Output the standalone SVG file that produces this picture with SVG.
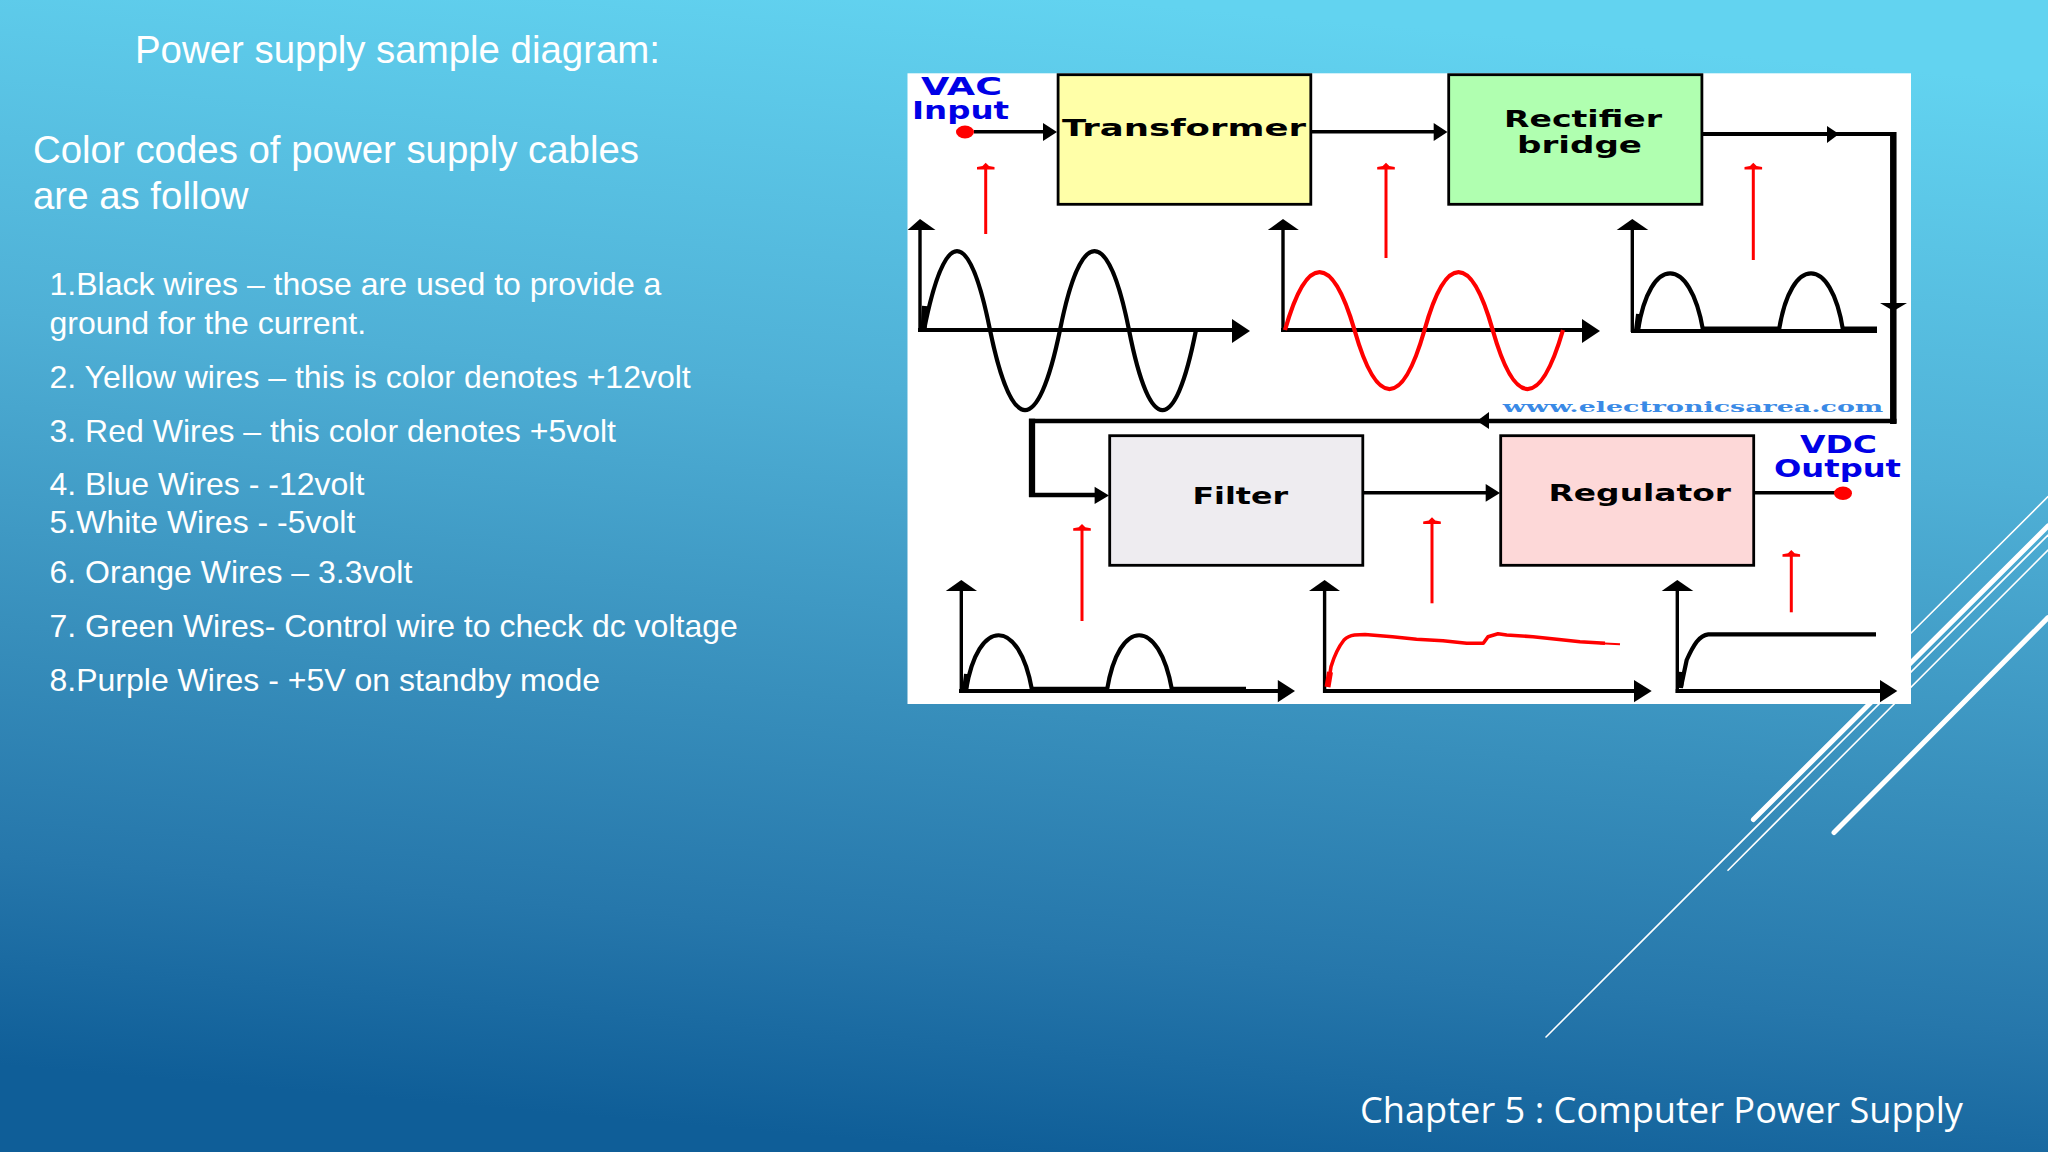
<svg xmlns="http://www.w3.org/2000/svg" width="2048" height="1152" viewBox="0 0 2048 1152">
<style>
.t{font-family:"Liberation Sans",Arial,sans-serif;fill:#fff}
.h{font-size:38.4px}.l{font-size:32px}
.b{font-family:"DejaVu Sans",sans-serif;font-weight:bold;fill:#000;font-size:23px}
.v{font-family:"DejaVu Sans",sans-serif;font-weight:bold;fill:#0000e6;font-size:24px}
.box{stroke:#000;stroke-width:2.8}
.w{fill:none;stroke:#000;stroke-width:3.4}
.s{fill:none;stroke:#000;stroke-width:4.2}
.r{fill:none;stroke:#f00;stroke-width:4.2}
.ra{fill:none;stroke:#f00;stroke-width:3}
.ah{fill:#000}.rh{fill:#f00}
.deco{stroke:#fff;fill:none}
</style>
<defs>
<linearGradient id="bg" gradientUnits="userSpaceOnUse" x1="1100" y1="0" x2="1000" y2="1152">
<stop offset="0" stop-color="#62d3f0"/><stop offset="0.35" stop-color="#4fb0d6"/><stop offset="0.62" stop-color="#388fbc"/><stop offset="0.82" stop-color="#2677ab"/><stop offset="1" stop-color="#0f5e98"/>
</linearGradient>
</defs>
<rect id="background" width="2048" height="1152" fill="url(#bg)"/>
<g id="decoration" class="deco" stroke-linecap="round">
<path d="M1884 660L2048 496.6" stroke-width="1.6"/>
<path d="M1753.4 819.6L2048 526" stroke-width="5"/>
<path d="M1546 1037L2048 535" stroke-width="1.6"/>
<path d="M1728 870.3L2048 550" stroke-width="1.6"/>
<path d="M1834 832.6L2048 617.6" stroke-width="5"/>
</g>
<g id="slide-text">
<text class="t h" x="135" y="63">Power supply sample diagram:</text>
<text class="t h" x="33" y="163">Color codes of power supply cables</text>
<text class="t h" x="33" y="209">are as follow</text>
<text class="t l" x="49.5" y="295">1.Black wires – those are used to provide a</text>
<text class="t l" x="49.5" y="333.5">ground for the current.</text>
<text class="t l" x="49.5" y="388">2. Yellow wires – this is color denotes +12volt</text>
<text class="t l" x="49.5" y="442">3. Red Wires – this color denotes +5volt</text>
<text class="t l" x="49.5" y="495">4. Blue Wires - -12volt</text>
<text class="t l" x="49.5" y="533">5.White Wires - -5volt</text>
<text class="t l" x="49.5" y="583">6. Orange Wires – 3.3volt</text>
<text class="t l" x="49.5" y="637">7. Green Wires- Control wire to check dc voltage</text>
<text class="t l" x="49.5" y="691">8.Purple Wires - +5V on standby mode</text>
<text x="1360" y="1123" font-family="'Open Sans',sans-serif" font-size="36.5px" fill="#fff" textLength="603" lengthAdjust="spacingAndGlyphs">Chapter 5 : Computer Power Supply</text>
</g>
<rect id="picture" x="907.5" y="73.3" width="1003.5" height="630.7" fill="#fff"/>
<g id="connectors">
<path class="w" d="M974 131.7H1045"/><polygon class="ah" points="1043,123 1057,132 1043,141"/>
<path class="w" d="M1312 131.7H1435"/><polygon class="ah" points="1433.7,123 1447.5,132 1433.7,141"/>
<path fill="none" stroke="#000" stroke-width="4" d="M1703 134H1892"/><polygon class="ah" points="1827,126 1839,134 1827,143"/>
<path fill="none" stroke="#000" stroke-width="6.5" d="M1893.3 132V424"/><polygon class="ah" points="1880,303 1907,303 1893.5,311"/>
<path fill="none" stroke="#000" stroke-width="4.5" d="M1896.5 421H1029"/><polygon class="ah" points="1489,412 1489,429 1477,421"/>
<path fill="none" stroke="#000" stroke-width="6.3" d="M1032 418.7V497"/><path fill="none" stroke="#000" stroke-width="4.7" d="M1029 495H1097"/><polygon class="ah" points="1094.6,486.7 1109,495.5 1094.6,504"/>
<path class="w" d="M1364 492.7H1488"/><polygon class="ah" points="1485.7,484 1500,493 1485.7,501.7"/>
<path class="w" d="M1755 492.7H1836"/>
<ellipse cx="965" cy="132" rx="9" ry="6.5" fill="#f00"/>
<ellipse cx="1843" cy="493.3" rx="9" ry="6.7" fill="#f00"/>
</g>
<g id="red-arrows">
<path class="ra" d="M985.7 234V166"/><polygon class="rh" points="985.7,162.7 989,166 994.5,167 994.5,169.5 977,169.5 977,167 982.5,166"/>
<path class="ra" d="M1386 258V166"/><polygon class="rh" points="1386,162.7 1389.3,166 1394.8,167 1394.8,169.5 1377.2,169.5 1377.2,167 1382.7,166"/>
<path class="ra" d="M1753.3 260V166"/><polygon class="rh" points="1753.3,162.7 1756.6,166 1762.1,167 1762.1,169.5 1744.5,169.5 1744.5,167 1750,166"/>
<path class="ra" d="M1082 621V527"/><polygon class="rh" points="1082,524 1085.3,527.3 1090.8,528.3 1090.8,530.8 1073.2,530.8 1073.2,528.3 1078.7,527.3"/>
<path class="ra" d="M1432 603.3V520"/><polygon class="rh" points="1432,517.3 1435.3,520.6 1440.8,521.6 1440.8,524.1 1423.2,524.1 1423.2,521.6 1428.7,520.6"/>
<path class="ra" d="M1791.3 612.3V553"/><polygon class="rh" points="1791.3,550 1794.6,553.3 1800.1,554.3 1800.1,556.8 1782.5,556.8 1782.5,554.3 1788,553.3"/>
</g>
<g id="vac-label">
<text class="v" x="921" y="95" textLength="81" lengthAdjust="spacingAndGlyphs">VAC</text>
<text class="v" x="912" y="119.3" textLength="97" lengthAdjust="spacingAndGlyphs">Input</text>
</g>
<g id="transformer">
<rect class="box" x="1058.1" y="74.7" width="252.7" height="129.6" fill="#ffffa8"/>
<text class="b" x="1062" y="136" textLength="244" lengthAdjust="spacingAndGlyphs">Transformer</text>
</g>
<g id="rectifier">
<rect class="box" x="1448.7" y="74.7" width="253.2" height="129.6" fill="#b0ffb0"/>
<text class="b" x="1504" y="127.3" textLength="158" lengthAdjust="spacingAndGlyphs">Rectifier</text>
<text class="b" x="1517" y="153.3" textLength="125" lengthAdjust="spacingAndGlyphs">bridge</text>
</g>
<g id="filter">
<rect class="box" x="1109.7" y="435.7" width="253.1" height="129.6" fill="#eeecf0"/>
<text class="b" x="1192.5" y="504" textLength="95.5" lengthAdjust="spacingAndGlyphs">Filter</text>
</g>
<g id="regulator">
<rect class="box" x="1500.7" y="435.7" width="253" height="129.6" fill="#fdd8d8"/>
<text class="b" x="1548.5" y="501" textLength="182.5" lengthAdjust="spacingAndGlyphs">Regulator</text>
</g>
<g id="vdc-label">
<text class="v" x="1800" y="453.3" textLength="77" lengthAdjust="spacingAndGlyphs">VDC</text>
<text class="v" x="1774" y="477.3" textLength="127" lengthAdjust="spacingAndGlyphs">Output</text>
</g>
<text id="website" x="1502.7" y="411.5" font-family="'DejaVu Serif',serif" font-weight="bold" font-size="14px" fill="#3a8ae6" textLength="380.6" lengthAdjust="spacingAndGlyphs">www.electronicsarea.com</text>
<g id="graph-1">
<path class="w" d="M920 228V332"/><polygon class="ah" points="920,219 935.5,230 907.6,230"/>
<path fill="none" stroke="#000" stroke-width="4" d="M918 330H1236"/><polygon class="ah" points="1232,319 1250,331 1232,343"/>
<path class="s" d="M924 330C945 224.7 969 224.7 990 330C1012 436.7 1038 436.7 1060 330C1081 224.7 1108 224.7 1129 330C1150 436.7 1175 436.7 1196 330"/>
<path fill="none" stroke="#000" stroke-width="6" d="M923.5 330L925 306"/>
</g>
<g id="graph-2">
<path class="w" d="M1283 228V332"/><polygon class="ah" points="1283,219 1298.8,230 1267.8,230"/>
<path fill="none" stroke="#000" stroke-width="4" d="M1281 330H1585"/><polygon class="ah" points="1582,319 1600,331 1582,343"/>
<path class="r" d="M1285 330C1307 252.7 1332 252.7 1354.5 330C1377 408.7 1402 408.7 1424.5 330C1446 252.7 1471 252.7 1492.7 330C1515 408.7 1540 408.7 1563 330"/>
</g>
<g id="graph-3">
<path class="w" d="M1632.3 228V332"/><polygon class="ah" points="1632.3,219 1648.3,230 1616.7,230"/>
<path fill="none" stroke="#000" stroke-width="4" d="M1631 331H1877"/><path fill="none" stroke="#000" stroke-width="6" d="M1703 329.5H1778M1843 329.5H1877"/>
<path class="s" d="M1638 330C1650 254.6 1690 254.6 1703 330M1779 330C1791 254.6 1831 254.6 1843 330"/>
<path fill="none" stroke="#000" stroke-width="6" d="M1637 330L1639 314"/>
</g>
<g id="graph-4">
<path class="w" d="M961.3 590V693"/><polygon class="ah" points="961.3,580 977,591 945.8,591"/>
<path fill="none" stroke="#000" stroke-width="4" d="M959 691H1280"/><path fill="none" stroke="#000" stroke-width="6" d="M1032 689.7H1107M1172 689.7H1246"/><polygon class="ah" points="1277.8,680 1295,691 1277.8,702.3"/>
<path class="s" d="M966 690C978 617 1019 617 1032 690M1107 690C1119 617 1159 617 1172 690"/>
<path fill="none" stroke="#000" stroke-width="6" d="M965 690L967 674"/>
</g>
<g id="graph-5">
<path class="w" d="M1324.6 590V693"/><polygon class="ah" points="1324.6,580 1340,591 1309,591"/>
<path fill="none" stroke="#000" stroke-width="4" d="M1323 691H1636"/><polygon class="ah" points="1634,680 1651.7,691 1634,702.3"/>
<path class="r" stroke-linejoin="round" style="stroke-width:3.6" d="M1328 686L1331 666.7Q1336 650 1344 640Q1348 636 1354.5 635L1365 634.5L1392.4 636.7L1416.5 639.3L1443 640.7L1466.7 643.3L1483.3 643.3L1488 636.7L1498 633.8L1506.7 635L1533 636.7L1556.7 639.3L1580 641.7L1605 643.3"/><path fill="none" stroke="#f00" stroke-width="2" d="M1600 643.2L1620 644.3"/>
<path fill="none" stroke="#f00" stroke-width="6" d="M1327.5 687L1330 672"/>
</g>
<g id="graph-6">
<path class="w" d="M1677.3 590V693"/><polygon class="ah" points="1677.3,580 1693.3,591 1661.7,591"/>
<path fill="none" stroke="#000" stroke-width="4" d="M1675.7 691H1883"/><polygon class="ah" points="1880,680 1897.3,691 1880,702.3"/>
<path class="s" d="M1681 686.7L1686.7 660Q1692 648 1696.7 641.7Q1702 635 1708.3 634.3H1876"/>
<path fill="none" stroke="#000" stroke-width="6" d="M1680 688L1682 672"/>
</g>
</svg>
